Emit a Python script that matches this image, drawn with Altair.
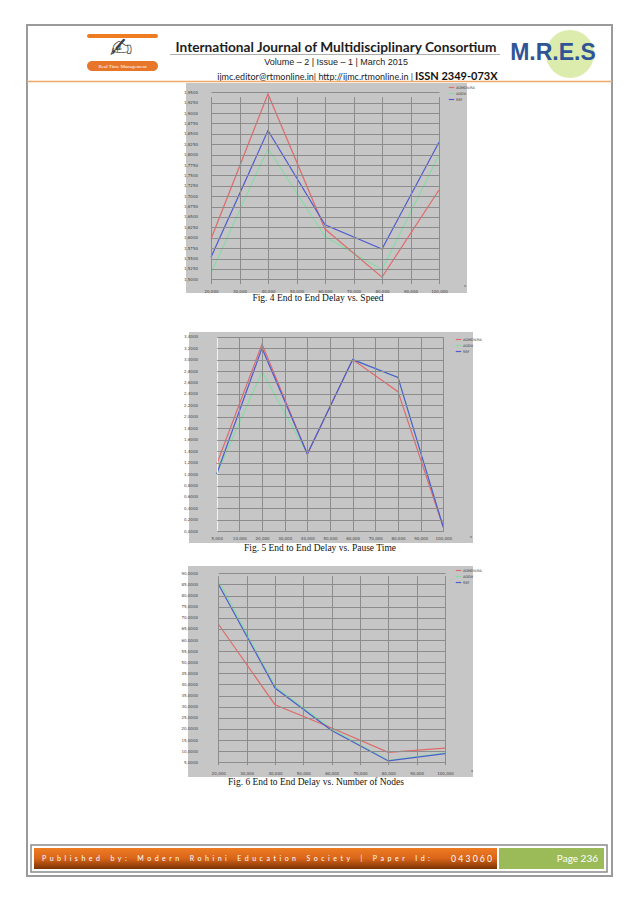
import altair as alt
import pandas as pd

# ---------------- data ----------------
series = ["AOMDV/RA", "AODV", "SSF"]
colors = ["#e06a6a", "#86dca6", "#4f5bd0"]
draw_order = ["AODV", "AOMDV/RA", "SSF"]

# Fig. 4  End to End Delay vs. Speed
speed = [20, 40, 60, 80, 100]
speed_ticks = [20, 30, 40, 50, 60, 70, 80, 90, 100]
speed_aomdv = [1.597, 1.946, 1.621, 1.505, 1.715]
speed_aodv = [1.515, 1.815, 1.603, 1.523, 1.799]
speed_ssf = [1.553, 1.858, 1.631, 1.573, 1.830]
speed_yticks = [1.5, 1.525, 1.55, 1.575, 1.6, 1.625, 1.65, 1.675, 1.7, 1.725,
                1.75, 1.775, 1.8, 1.825, 1.85, 1.875, 1.9, 1.925, 1.95]

# Fig. 5  End to End Delay vs. Pause Time
pause_ticks = ["5,000", "10,000", "20,000", "30,000", "40,000", "50,000",
               "60,000", "70,000", "80,000", "90,000", "100,000"]
pause = ["5,000", "20,000", "40,000", "60,000", "80,000", "100,000"]
pause_aomdv = [1.17, 3.27, 1.35, 3.00, 2.44, 0.07]
pause_aodv = [1.00, 2.79, 1.35, 3.00, 2.69, 0.07]
pause_ssf = [1.00, 3.20, 1.35, 3.00, 2.69, 0.07]
pause_yticks = [0.0, 0.2, 0.4, 0.6, 0.8, 1.0, 1.2, 1.4, 1.6, 1.8, 2.0, 2.2,
                2.4, 2.6, 2.8, 3.0, 3.2, 3.4]

# Fig. 6  End to End Delay vs. Number of Nodes
nodes = [20, 40, 60, 80, 100]
nodes_ticks = [20, 30, 40, 50, 60, 70, 80, 90, 100]
nodes_aomdv = [67.2, 30.9, 20.4, 9.5, 11.4]
nodes_aodv = [87.0, 39.1, 20.0, 5.9, 9.2]
nodes_ssf = [85.2, 38.4, 19.3, 5.6, 8.9]
nodes_yticks = [5, 10, 15, 20, 25, 30, 35, 40, 45, 50, 55, 60, 65, 70, 75, 80, 85, 90]

captions = ["Fig. 4 End to End Delay vs. Speed",
            "Fig. 5 End to End Delay vs. Pause Time",
            "Fig. 6 End to End Delay vs. Number of Nodes"]

footer_words = ["Published", "by:", "Modern", "Rohini", "Education", "Society", "|",
                "Paper", "Id:"]
paper_id = "043060"


def long_df(xs, d):
    rows = []
    for s in draw_order:
        for x, v in zip(xs, d[s]):
            rows.append({"x": x, "v": v, "s": s})
    return pd.DataFrame(rows)


df1 = long_df(speed, {"AOMDV/RA": speed_aomdv, "AODV": speed_aodv, "SSF": speed_ssf})
df2 = long_df(pause, {"AOMDV/RA": pause_aomdv, "AODV": pause_aodv, "SSF": pause_ssf})
df3 = long_df(nodes, {"AOMDV/RA": nodes_aomdv, "AODV": nodes_aodv, "SSF": nodes_ssf})

ONE = pd.DataFrame({"k": [0]})

GRAY = "#c6c6c6"
GRID = "#8c8c8c"
OX = 199


# ---------------- helpers (page-pixel decorations) ----------------
def rect(o, x1, y1, x2, y2, **kw):
    return alt.Chart(ONE).mark_rect(**kw).encode(
        x=alt.value(x1 - o[0]), x2=alt.value(x2 - o[0]),
        y=alt.value(y1 - o[1]), y2=alt.value(y2 - o[1]))


def rule(o, x1, y1, x2, y2, **kw):
    return alt.Chart(ONE).mark_rule(**kw).encode(
        x=alt.value(x1 - o[0]), x2=alt.value(x2 - o[0]),
        y=alt.value(y1 - o[1]), y2=alt.value(y2 - o[1]))


def text(o, s, x, y, **kw):
    return alt.Chart(ONE).mark_text(text=s, **kw).encode(
        x=alt.value(x - o[0]), y=alt.value(y - o[1]))


def xaxis(values, expr, grid_color=GRID):
    return alt.Axis(values=values, grid=True, gridColor=grid_color, gridWidth=1,
                    domain=False, ticks=False, labelFontSize=4, labelColor="#444",
                    labelPadding=1.5, labelExpr=expr, title=None, zindex=1, labelAngle=0,
                    labelFlush=False, labelOverlap=False, labelFont="DejaVu Sans")


def yaxis(values):
    return alt.Axis(values=values, grid=True, gridColor=GRID, gridWidth=1,
                    domain=False, ticks=False, labelFontSize=4, labelColor="#444",
                    labelPadding=1.5, labelExpr="replace(format(datum.value, '.4f'), '.', ',')",
                    title=None, zindex=1, labelFlush=False, labelOverlap=False,
                    labelFont="DejaVu Sans")


def color_enc(lx, ly):
    return alt.Color("s:N", scale=alt.Scale(domain=series, range=colors),
                     legend=alt.Legend(orient="none", legendX=lx, legendY=ly, title=None,
                                       symbolType="stroke", symbolStrokeWidth=1.2,
                                       symbolSize=30, labelFontSize=3.5, labelFont="DejaVu Sans",
                                       labelColor="#333", rowPadding=0, padding=0,
                                       labelOffset=1, symbolOffset=0))


# ---------------- panel 1 : header + Fig. 4 ----------------
o1 = (OX, 88)
H1 = 200
header = [
    rect(o1, 8, 8, 630, 894, fill="white"),
    rect(o1, 27, 25, 612, 876, fill="transparent", stroke="#9a9a9a", strokeWidth=2),
    # logo
    rect(o1, 87, 34, 158, 38, fill="#ee7d22", cornerRadius=2),
    text(o1, "\u270d", 121, 49, fontSize=27, color="#3c3c3c", font="DejaVu Sans"),
    rect(o1, 87, 61, 158, 71, fill="#e8762a", cornerRadius=5),
    text(o1, "Real Time Management", 122.5, 66.3, fontSize=5, color="white",
         font="Liberation Serif"),
    # title block
    text(o1, "International Journal of Multidisciplinary Consortium", 336, 47.5,
         fontSize=13.7, fontWeight="bold", font="Lato", color="#1e1e1e"),
    rule(o1, 170, 54.5, 500, 54.5, color="#9a9a9a", strokeWidth=0.8),
    text(o1, "Volume \u2013 2 | Issue \u2013 1 | March 2015", 336, 62, fontSize=9,
         font="Liberation Sans", color="#222"),
    text(o1, "ijmc.editor@rtmonline.in| http://ijmc.rtmonline.in | ", 413, 76.5,
         fontSize=9, font="Lato", color="#222", align="right"),
    text(o1, "ISSN 2349-073X", 415, 76.5, fontSize=11, font="Lato", fontWeight="bold",
         color="#111", align="left"),
    # M.R.E.S
    alt.Chart(ONE).mark_point(shape="circle", size=2300, filled=True,
                              fill="#dcecac", opacity=1).encode(
        x=alt.value(570 - o1[0]), y=alt.value(54 - o1[1])),
    text(o1, "M.R.E.S", 553, 53, fontSize=23, fontWeight="bold",
         font="Liberation Sans", color="#2f5597"),
    rule(o1, 27, 81.5, 612, 81.5, color="#f0a868", strokeWidth=1.5),
]

chart1 = alt.layer(
    *header,
    rect(o1, 186, 83, 467, 293, fill=GRAY),
    alt.Chart(df1).mark_line(strokeWidth=1.2).encode(
        x=alt.X("x:Q", scale=alt.Scale(domain=[20, 100], range=[211 - OX, 439 - OX],
                                       nice=False, zero=False),
                axis=xaxis(speed_ticks, "datum.value + ',000'")),
        y=alt.Y("v:Q", scale=alt.Scale(domain=[1.5, 1.95], range=[191.3, 4.3], nice=False, zero=False),
                axis=yaxis(speed_yticks)),
        color=color_enc(448 - OX, -4),
    ),
    text(o1, "s", 465, 286, fontSize=4, color="#444"),
    text(o1, captions[0], 318, 298, fontSize=9.5, font="Liberation Serif", color="#111"),
).properties(width=451 - OX, height=H1)

# ---------------- panel 2 : Fig. 5 ----------------
o2 = (OX, 333)
H2 = 202
chart2 = alt.layer(
    rect(o2, 189, 332, 473, 543, fill=GRAY),
    alt.Chart(df2).mark_line(strokeWidth=1.2).encode(
        x=alt.X("x:O", sort=pause_ticks,
                scale=alt.Scale(domain=pause_ticks, type="point", padding=0,
                                range=[216.7 - OX, 443.3 - OX]),
                axis=xaxis(pause_ticks, "datum.value",
                           {"condition": {"test": "datum.value == '5,000'", "value": "#f2f2f2"},
                            "value": GRID})),
        y=alt.Y("v:Q", scale=alt.Scale(domain=[0, 3.4], range=[198.3, 3.7], nice=False, zero=False),
                axis=yaxis(pause_yticks)),
        color=color_enc(455 - OX, 3),
    ),
    text(o2, "s", 471, 537, fontSize=4, color="#444"),
    text(o2, captions[1], 320, 548, fontSize=9.5, font="Liberation Serif", color="#111"),
).properties(width=455 - OX, height=H2)

# ---------------- panel 3 : Fig. 6 + footer ----------------
o3 = (OX, 568)
H3 = 202
EN = "\u2002"
footer_text = (EN * 3).join(EN.join(w) for w in footer_words)
footer = [
    rect(o3, 31, 845, 607, 872, fill="transparent", stroke="#8a8a8a", strokeWidth=1.5),
    rect(o3, 34, 848, 497, 869,
         fill=alt.Gradient(gradient="linear",
                           stops=[alt.GradientStop(color="#ee7c22", offset=0),
                                  alt.GradientStop(color="#d9651a", offset=0.5),
                                  alt.GradientStop(color="#7a3304", offset=1)],
                           x1=0, x2=0, y1=0, y2=1)),
    rect(o3, 499, 848, 604, 869, fill="#9bbb59"),
    text(o3, footer_text, 42, 858.5, fontSize=7.0, font="Lato", color="white", align="left"),
    text(o3, "\u2005".join(paper_id), 451, 858.5, fontSize=8.7, font="Lato", color="white",
         align="left"),
    text(o3, "Page 236", 598, 858.5, fontSize=10, font="Lato", color="white", align="right"),
]

chart3 = alt.layer(
    rect(o3, 188, 566, 473, 777, fill=GRAY),
    alt.Chart(df3).mark_line(strokeWidth=1.2).encode(
        x=alt.X("x:Q", scale=alt.Scale(domain=[20, 100], range=[218.3 - OX, 445 - OX],
                                       nice=False, zero=False),
                axis=xaxis(nodes_ticks, "datum.value + ',000'")),
        y=alt.Y("v:Q", scale=alt.Scale(domain=[5, 90], range=[194.3, 5.3], nice=False, zero=False),
                axis=yaxis(nodes_yticks)),
        color=color_enc(455 - OX, -1),
    ),
    text(o3, "s", 472, 771, fontSize=4, color="#444"),
    text(o3, captions[2], 316, 782, fontSize=9.5, font="Liberation Serif", color="#111"),
    *footer,
).properties(width=455 - OX, height=H3)


def spacer(h):
    return alt.Chart(ONE).mark_point(opacity=0).encode(
        x=alt.value(0), y=alt.value(0)).properties(width=1, height=h)


chart = alt.vconcat(chart1, spacer(333 - 88 - H1), chart2, spacer(568 - 333 - H2), chart3,
                    spacing=0, bounds="flush").resolve_scale(
    color="independent").resolve_legend(color="independent").properties(
    padding=0).configure_view(strokeWidth=0)

chart.save("out.html", embed_options={"renderer": "svg", "actions": False})
